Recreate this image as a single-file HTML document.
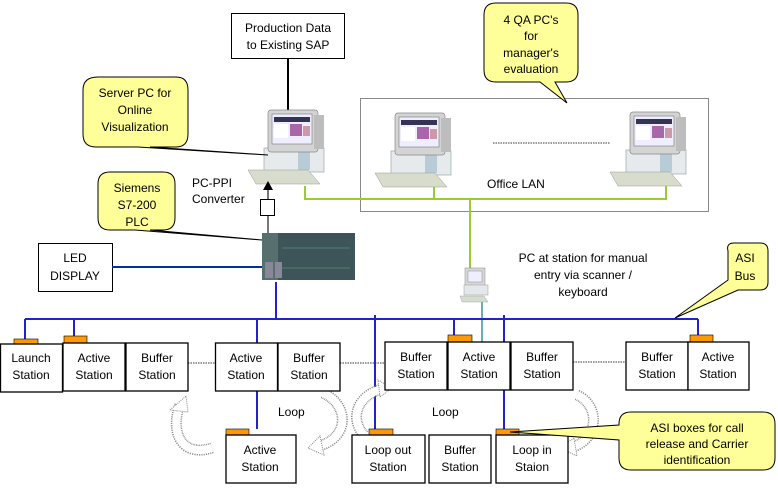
<!DOCTYPE html>
<html><head><meta charset="utf-8"><style>
html,body{margin:0;padding:0;background:#fff;}
svg{display:block;}
text{font-family:"Liberation Sans",sans-serif;font-size:12px;fill:#000;}
</style></head><body>
<svg width="778" height="494" viewBox="0 0 778 494" xmlns="http://www.w3.org/2000/svg">
<defs>
<g id="pc">
  <rect x="16" y="38" width="60" height="24" fill="#e6eaec" stroke="#9aa" stroke-width="0.7"/>
  <rect x="50" y="41" width="12" height="19" fill="#b8ccd8"/>
  <rect x="20" y="0" width="50" height="42" rx="3" fill="#d4d4d4" stroke="#888" stroke-width="0.7"/>
  <rect x="66" y="5" width="10" height="34" fill="#bdbdbd"/>
  <rect x="24" y="4" width="40" height="30" fill="#eef" stroke="#777" stroke-width="0.6"/>
  <rect x="26" y="7" width="36" height="5" fill="#335"/>
  <rect x="26" y="14" width="14" height="14" fill="#fff"/>
  <rect x="42" y="14" width="12" height="12" fill="#a6a"/>
  <rect x="55" y="16" width="7" height="10" fill="#c9a"/>
  <polygon points="0,60 60,60 72,74 8,74" fill="#d8dccc" stroke="#999" stroke-width="0.5"/>
</g>
<g id="sm">
  <rect x="5" y="0" width="20" height="18" fill="#d8d8d8" stroke="#888" stroke-width="0.5"/>
  <rect x="8" y="3" width="14" height="11" fill="#eef" stroke="#777" stroke-width="0.4"/>
  <rect x="4" y="17" width="24" height="10" fill="#e4e8ea" stroke="#999" stroke-width="0.5"/>
  <polygon points="0,28 24,28 28,34 2,34" fill="#d6dccf" stroke="#999" stroke-width="0.4"/>
</g>
</defs>

<rect x="231.5" y="13.5" width="113" height="45" fill="#fff" stroke="#000"/>
<text x="288" y="32" text-anchor="middle">Production Data</text>
<text x="288" y="49" text-anchor="middle">to Existing SAP</text>
<line x1="288" y1="58" x2="288" y2="112" stroke="#000" stroke-width="2"/>

<rect x="360.5" y="98.5" width="348" height="113" fill="#fff" stroke="#888"/>
<line x1="493" y1="143" x2="610" y2="143" stroke="#333" stroke-dasharray="1.5,1"/>
<text x="487" y="188">Office LAN</text>

<polyline points="305,186 305,199 666,199 666,180" fill="none" stroke="#9c3" stroke-width="2"/>
<line x1="434" y1="178" x2="434" y2="199" stroke="#9c3" stroke-width="2"/>
<line x1="470" y1="199" x2="470" y2="272" stroke="#9c3" stroke-width="2"/>

<use href="#pc" x="248" y="110"/>
<use href="#pc" x="375" y="113"/>
<use href="#pc" x="610" y="112"/>
<use href="#sm" x="460" y="268"/>
<line x1="482" y1="302" x2="482" y2="342" stroke="#399" stroke-width="1.5"/>

<line x1="268" y1="183" x2="268" y2="233" stroke="#777" stroke-width="2"/>
<polygon points="268,181 263,190 273,190" fill="#000"/>
<rect x="260.5" y="199.5" width="14" height="16" fill="#fff" stroke="#000"/>
<text x="192" y="187" font-size="11">PC-PPI</text>
<text x="192" y="203" font-size="11">Converter</text>

<rect x="262" y="233" width="93" height="47" fill="#3d5558"/>
<rect x="262" y="233" width="16" height="47" fill="#56706f"/>
<rect x="265" y="262" width="8" height="16" fill="#889"/>
<rect x="275" y="262" width="7" height="16" fill="#889"/>
<line x1="282" y1="248" x2="350" y2="248" stroke="#6a8" stroke-width="0.5"/>
<line x1="282" y1="268" x2="350" y2="268" stroke="#6a8" stroke-width="0.5"/>

<rect x="38.5" y="243.5" width="74" height="48" fill="#fff" stroke="#000"/>
<text x="75" y="262" text-anchor="middle">LED</text>
<text x="75" y="280" text-anchor="middle">DISPLAY</text>
<line x1="112" y1="267" x2="262" y2="267" stroke="#039" stroke-width="2"/>

<g stroke="#22c" stroke-width="2" fill="none">
<line x1="25" y1="319" x2="698" y2="319"/>
<line x1="276" y1="282" x2="276" y2="319"/>
<line x1="25" y1="319" x2="25" y2="339"/>
<line x1="74" y1="319" x2="74" y2="336"/>
<line x1="257" y1="319" x2="257" y2="343"/>
<line x1="257" y1="391" x2="257" y2="429"/>
<line x1="454" y1="319" x2="454" y2="335"/>
<line x1="375" y1="315" x2="375" y2="429"/>
<line x1="504" y1="315" x2="504" y2="342"/>
<line x1="504" y1="390" x2="504" y2="429"/>
<line x1="698" y1="319" x2="698" y2="335"/>
</g>

<g stroke="#333" stroke-dasharray="1.5,1">
<line x1="188" y1="363" x2="215" y2="363"/>
<line x1="340" y1="363" x2="385" y2="363"/>
<line x1="573" y1="362" x2="626" y2="362"/>
</g>

<g fill="none">
<path d="M212,448 C180,458 170,430 180,405" stroke="#888" stroke-width="11" stroke-dasharray="1,1"/>
<path d="M212,448 C180,458 170,430 180,405" stroke="#fff" stroke-width="8"/>
<path d="M323,393 C350,405 350,440 315,447" stroke="#888" stroke-width="11" stroke-dasharray="1,1"/>
<path d="M323,393 C350,405 350,440 315,447" stroke="#fff" stroke-width="8"/>
<path d="M364,435 C350,420 355,395 385,388" stroke="#888" stroke-width="11" stroke-dasharray="1,1"/>
<path d="M364,435 C350,420 355,395 385,388" stroke="#fff" stroke-width="8"/>
<path d="M577,395 C600,405 600,440 570,448" stroke="#888" stroke-width="11" stroke-dasharray="1,1"/>
<path d="M577,395 C600,405 600,440 570,448" stroke="#fff" stroke-width="8"/>
</g>
<g fill="#fff" stroke="#888" stroke-dasharray="1,1">
<polygon points="170,410 186,396 188,412"/>
<polygon points="308,448 320,436 324,455"/>
<polygon points="378,380 392,388 380,397"/>
<polygon points="560,448 574,438 577,456"/>
</g>

<text x="278" y="416">Loop</text>
<text x="432" y="416">Loop</text>

<g fill="#f90" stroke="#000" stroke-width="0.6">
<rect x="14" y="339" width="24" height="5"/>
<rect x="64" y="336" width="23" height="7"/>
<rect x="448" y="335" width="24" height="7"/>
<rect x="690" y="335" width="23" height="7"/>
<rect x="226" y="429" width="23" height="6"/>
<rect x="369" y="429" width="24" height="6"/>
<rect x="496" y="429" width="23" height="6"/>
</g>
<g fill="#fff" stroke="#000" stroke-width="1.3">
<rect x="0.5" y="344" width="62" height="48"/>
<rect x="63" y="343" width="62" height="48"/>
<rect x="126" y="343" width="62" height="48"/>
<rect x="215.5" y="343" width="62" height="48"/>
<rect x="278" y="343" width="62" height="48"/>
<rect x="385" y="342" width="62" height="48"/>
<rect x="448" y="342" width="62" height="48"/>
<rect x="511" y="342" width="62" height="48"/>
<rect x="626" y="342" width="62" height="48"/>
<rect x="688" y="342" width="61" height="48"/>
<rect x="226" y="435" width="70" height="48"/>
<rect x="352" y="435" width="73" height="48"/>
<rect x="429" y="435" width="62" height="48"/>
<rect x="496" y="435" width="72" height="48"/>
</g>
<g text-anchor="middle">
<text x="31" y="362">Launch</text><text x="31" y="379">Station</text>
<text x="94" y="362">Active</text><text x="94" y="379">Station</text>
<text x="157" y="362">Buffer</text><text x="157" y="379">Station</text>
<text x="246" y="362">Active</text><text x="246" y="379">Station</text>
<text x="309" y="362">Buffer</text><text x="309" y="379">Station</text>
<text x="416" y="361">Buffer</text><text x="416" y="378">Station</text>
<text x="479" y="361">Active</text><text x="479" y="378">Station</text>
<text x="542" y="361">Buffer</text><text x="542" y="378">Station</text>
<text x="657" y="361">Buffer</text><text x="657" y="378">Station</text>
<text x="718" y="361">Active</text><text x="718" y="378">Station</text>
<text x="260" y="454">Active</text><text x="260" y="471">Station</text>
<text x="388" y="454">Loop out</text><text x="388" y="471">Station</text>
<text x="460" y="454">Buffer</text><text x="460" y="471">Station</text>
<text x="532" y="454">Loop in</text><text x="532" y="471">Staion</text>
</g>

<text x="583" y="262" text-anchor="middle">PC at station for manual</text>
<text x="583" y="279" text-anchor="middle">entry via scanner /</text>
<text x="583" y="296" text-anchor="middle">keyboard</text>

<g fill="#ffff99" stroke="#000" stroke-width="1">
<path d="M98,77 H176 Q188,77 188,90 V134 Q188,147 176,147 H150 L268,155 L138,147 H96 Q83,147 83,134 V90 Q83,77 98,77 Z"/>
<path d="M110,172 H163 Q175,172 175,184 V218 Q175,230 163,230 H150 L262,240 L135,230 H110 Q98,230 98,218 V184 Q98,172 110,172 Z"/>
<path d="M496,3 H566 Q578,3 578,15 V70 Q578,82 566,82 H555 L567,103 L540,82 H496 Q484,82 484,70 V15 Q484,3 496,3 Z"/>
<path d="M734,243 H760 Q768,243 768,251 V282 Q768,290 760,290 H738 L675,318 L728,280 V251 Q726,243 734,243 Z"/>
<path d="M631,412 H763 Q775,412 775,424 V458 Q775,470 763,470 H631 Q619,470 619,458 V440 L510,432 L619,425 V424 Q619,412 631,412 Z"/>
</g>
<g text-anchor="middle">
<text x="135" y="97">Server PC for</text>
<text x="135" y="114">Online</text>
<text x="135" y="131">Visualization</text>
<text x="137" y="192">Siemens</text>
<text x="137" y="209">S7-200</text>
<text x="137" y="226">PLC</text>
<text x="531" y="24">4 QA PC's</text>
<text x="531" y="40">for</text>
<text x="531" y="57">manager's</text>
<text x="531" y="73">evaluation</text>
<text x="745" y="262">ASI</text>
<text x="745" y="280">Bus</text>
<text x="697" y="432">ASI boxes for call</text>
<text x="697" y="448">release and Carrier</text>
<text x="697" y="464">identification</text>
</g>
</svg>
</body></html>
